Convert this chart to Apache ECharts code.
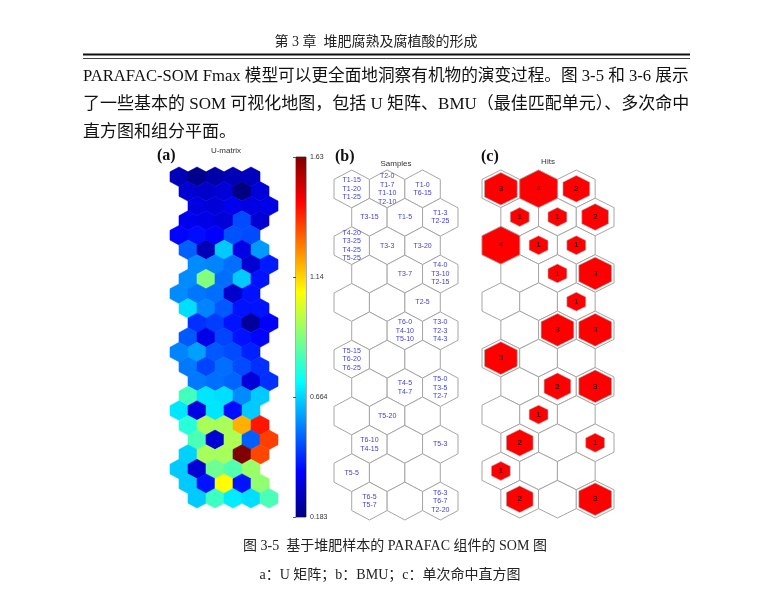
<!DOCTYPE html>
<html><head><meta charset="utf-8">
<script src="https://cdn.jsdelivr.net/npm/echarts@6/dist/echarts.min.js"></script>
<style>html,body{margin:0;padding:0;background:#fff}#c{width:770px;height:589px}</style>
</head><body><div id="c"></div>
<script>
// ---------- data ----------
// U-matrix values, 23 rows x 5 columns (top row first)
const umatRows = [
  [0.26, 0.20, 0.24, 0.26, 0.27],
  [0.30, 0.29, 0.31, 0.183, 0.31],
  [0.32, 0.31, 0.34, 0.32, 0.33],
  [0.34, 0.33, 0.31, 0.47, 0.30],
  [0.37, 0.38, 0.36, 0.48, 0.47],
  [0.50, 0.26, 0.65, 0.33, 0.58],
  [0.56, 0.55, 0.52, 0.30, 0.40],
  [0.56, 0.91, 0.52, 0.65, 0.39],
  [0.56, 0.53, 0.52, 0.29, 0.39],
  [0.68, 0.55, 0.49, 0.39, 0.39],
  [0.43, 0.45, 0.39, 0.22, 0.36],
  [0.49, 0.33, 0.46, 0.39, 0.37],
  [0.55, 0.59, 0.49, 0.47, 0.41],
  [0.535, 0.46, 0.52, 0.47, 0.43],
  [0.535, 0.52, 0.506, 0.31, 0.43],
  [0.82, 0.69, 0.68, 0.56, 0.65],
  [0.69, 0.32, 0.69, 0.38, 0.65],
  [0.78, 0.965, 0.965, 1.20, 1.42],
  [0.83, 0.30, 0.97, 0.50, 1.36],
  [0.66, 0.96, 0.96, 1.63, 1.35],
  [0.65, 0.30, 0.88, 0.84, 0.94],
  [0.65, 0.39, 1.09, 0.39, 0.93],
  [0.65, 0.81, 0.70, 0.68, 0.83]
];
const colorbarMin = 0.183;
const colorbarMax = 1.63;
const colorbarTickLabels = ['0.183', '0.664', '1.14', '1.63'];

// BMU sample labels, 12 rows x 3 columns
const bmuLabels = [
  ['T1-15\nT1-20\nT1-25', 'T2-0\nT1-7\nT1-10\nT2-10', 'T1-0\nT6-15'],
  ['T3-15', 'T1-5', 'T1-3\nT2-25'],
  ['T4-20\nT3-25\nT4-25\nT5-25', 'T3-3', 'T3-20'],
  ['', 'T3-7', 'T4-0\nT3-10\nT2-15'],
  ['', '', 'T2-5'],
  ['', 'T6-0\nT4-10\nT5-10', 'T3-0\nT2-3\nT4-3'],
  ['T5-15\nT6-20\nT6-25', '', ''],
  ['', 'T4-5\nT4-7', 'T5-0\nT3-5\nT2-7'],
  ['', 'T5-20', ''],
  ['T6-10\nT4-15', '', 'T5-3'],
  ['T5-5', '', ''],
  ['T6-5\nT5-7', '', 'T6-3\nT6-7\nT2-20']
];
// hits per map unit, 12 rows x 3 columns
const hitsRows = [
  [3, 4, 2], [1, 1, 2], [4, 1, 1], [0, 1, 3], [0, 0, 1], [0, 3, 3],
  [3, 0, 0], [0, 2, 3], [0, 1, 0], [2, 0, 1], [1, 0, 0], [2, 0, 3]
];

// ---------- lattice helpers ----------
const umatShift = [0, 0.5, 1, 0.5];
const jet = ['#000080', '#0000ff', '#0080ff', '#00ffff', '#80ff80', '#ffff00', '#ff8000', '#ff0000', '#800000'];

const umatData = [];
umatRows.forEach((row, r) => row.forEach((v, c) => umatData.push([c + umatShift[r % 4], r, v])));
const mapData = [], mapLabels = [];
bmuLabels.forEach((row, r) => row.forEach((t, c) => { mapData.push([c + 0.5 * (r % 2), r]); mapLabels.push(t); }));
const hitsData = [];
hitsRows.forEach((row, r) => row.forEach((h, c) => hitsData.push([c + 0.5 * (r % 2), r, h])));
const maxHits = Math.max(...hitsRows.flat());

function hexPts(cx, cy, hw, hh) {
  return [[cx, cy - hh], [cx + hw, cy - hh / 2], [cx + hw, cy + hh / 2], [cx, cy + hh], [cx - hw, cy + hh / 2], [cx - hw, cy - hh / 2]];
}
const SMALL = "'Liberation Sans', Arial, sans-serif";
const SERIF = "'Liberation Serif', 'Noto Sans CJK SC', serif";

const hiddenX = (gi, min, max) => ({ type: 'value', gridIndex: gi, min, max, show: false });
const hiddenY = (gi, min, max) => ({ type: 'value', gridIndex: gi, min, max, inverse: true, show: false });

function txt(text, x, y, font, fill, align) {
  return { type: 'text', x: x, y: y, silent: true,
    style: { text, font, fill: fill || '#222', align: align || 'left', textAlign: align || 'left',
             verticalAlign: 'middle', textVerticalAlign: 'middle' } };
}

const option = {
  backgroundColor: '#fff',
  animation: false,
  grid: [
    { left: 170, top: 167, width: 108, height: 341 },
    { left: 296, top: 157, width: 10, height: 360, show: true, borderColor: '#333', borderWidth: 0.8, backgroundColor: 'transparent' },
    { left: 334, top: 170, width: 124, height: 350 },
    { left: 482, top: 170, width: 132, height: 348 }
  ],
  xAxis: [
    hiddenX(0, -0.5, 5.5),
    hiddenX(1, 0, 1),
    hiddenX(2, -0.5, 3),
    hiddenX(3, -0.5, 3)
  ],
  yAxis: [
    hiddenY(0, -2 / 3, 22 + 2 / 3),
    { type: 'value', gridIndex: 1, min: 0, max: 3, interval: 1, position: 'right',
      axisLine: { show: false }, splitLine: { show: false },
      axisTick: { show: true, inside: true, length: 3, lineStyle: { color: '#333', width: 0.8 } },
      axisLabel: { fontSize: 7, fontFamily: SMALL, color: '#333', margin: 4,
                   formatter: (v) => colorbarTickLabels[Math.round(v)] } },
    hiddenY(2, -2 / 3, 11 + 2 / 3),
    hiddenY(3, -2 / 3, 11 + 2 / 3)
  ],
  visualMap: {
    type: 'continuous', show: false, seriesIndex: 0, dimension: 2,
    min: colorbarMin, max: colorbarMax, inRange: { color: jet }
  },
  series: [
    { type: 'custom', name: 'U-matrix', xAxisIndex: 0, yAxisIndex: 0, data: umatData,
      renderItem: (params, api) => {
        const p = api.coord([api.value(0), api.value(1)]);
        const s = api.size([1, 1]);
        const col = api.visual('color');
        return { type: 'polygon', shape: { points: hexPts(p[0], p[1], s[0] / 2, s[1] * 2 / 3) },
                 style: { fill: col, stroke: col, lineWidth: 0.6 } };
      } },
    { type: 'custom', name: 'colorbar', xAxisIndex: 1, yAxisIndex: 1, data: [[0, 0, 1, 3]],
      renderItem: (params, api) => {
        const a = api.coord([api.value(0), api.value(3)]);
        const b = api.coord([api.value(2), api.value(1)]);
        return { type: 'rect', shape: { x: a[0], y: a[1], width: b[0] - a[0], height: b[1] - a[1] },
                 style: { fill: new echarts.graphic.LinearGradient(0, 1, 0, 0,
                   jet.map((c, i) => ({ offset: i / (jet.length - 1), color: c }))) } };
      } },
    { type: 'custom', name: 'Samples', xAxisIndex: 2, yAxisIndex: 2, data: mapData,
      renderItem: (params, api) => {
        const p = api.coord([api.value(0), api.value(1)]);
        const s = api.size([1, 1]);
        return { type: 'group', children: [
          { type: 'polygon', shape: { points: hexPts(p[0], p[1], s[0] / 2, s[1] * 2 / 3) },
            style: { fill: '#fff', stroke: '#a6a6a6', lineWidth: 1 } },
          { type: 'text', style: { text: mapLabels[params.dataIndex], x: p[0], y: p[1],
            align: 'center', verticalAlign: 'middle', fontSize: 7, fontFamily: SMALL,
            lineHeight: 8.5, fill: '#4040d8' } }
        ] };
      } },
    { type: 'custom', name: 'HitsGrid', xAxisIndex: 3, yAxisIndex: 3, data: hitsData,
      renderItem: (params, api) => {
        const p = api.coord([api.value(0), api.value(1)]);
        const s = api.size([1, 1]);
        return { type: 'polygon', shape: { points: hexPts(p[0], p[1], s[0] / 2, s[1] * 2 / 3) },
                 style: { fill: '#fff', stroke: '#a6a6a6', lineWidth: 1 } };
      } },
    { type: 'custom', name: 'Hits', xAxisIndex: 3, yAxisIndex: 3, data: hitsData,
      renderItem: (params, api) => {
        const h = api.value(2);
        if (!h) return { type: 'group', children: [] };
        const p = api.coord([api.value(0), api.value(1)]);
        const s = api.size([1, 1]);
        const k = Math.sqrt(h / maxHits);
        return { type: 'group', children: [
          { type: 'polygon', shape: { points: hexPts(p[0], p[1], k * s[0] / 2, k * s[1] * 2 / 3) },
            style: { fill: '#ff0000', stroke: '#b0b0b0', lineWidth: 0.6 } },
          { type: 'text', style: { text: String(h), x: p[0], y: p[1], align: 'center', verticalAlign: 'middle',
            fontSize: 8, fontFamily: SMALL, fill: '#000' } }
        ] };
      } }
  ],
  graphic: [
    txt('第 3 章  堆肥腐熟及腐植酸的形成', 376, 42, "14px " + SERIF, '#222', 'center'),
    { type: 'line', shape: { x1: 83, y1: 54.5, x2: 690, y2: 54.5 }, style: { stroke: '#111', lineWidth: 2 } },
    { type: 'line', shape: { x1: 83, y1: 58.5, x2: 690, y2: 58.5 }, style: { stroke: '#111', lineWidth: 0.8 } },
    txt('PARAFAC-SOM Fmax 模型可以更全面地洞察有机物的演变过程。图 3-5 和 3-6 展示', 83, 77, "16.65px " + SERIF, '#111'),
    txt('了一些基本的 SOM 可视化地图，包括 U 矩阵、BMU（最佳匹配单元）、多次命中', 83, 105, "17px " + SERIF, '#111'),
    txt('直方图和组分平面。', 83, 133, "17px " + SERIF, '#111'),
    txt('(a)', 157, 156, "bold 16px " + SERIF, '#111'),
    txt('(b)', 335, 157, "bold 16px " + SERIF, '#111'),
    txt('(c)', 481, 157, "bold 16px " + SERIF, '#111'),
    txt('U-matrix', 226, 151, "8px " + SMALL, '#333', 'center'),
    txt('Samples', 396, 164, "8px " + SMALL, '#333', 'center'),
    txt('Hits', 548, 162, "8px " + SMALL, '#333', 'center'),
    txt('图 3-5  基于堆肥样本的 PARAFAC 组件的 SOM 图', 395, 546, "14px " + SERIF, '#222', 'center'),
    txt('a：U 矩阵；b：BMU；c：单次命中直方图', 390, 575, "14px " + SERIF, '#222', 'center')
  ]
};
const chart = echarts.init(document.getElementById('c'), null, { renderer: 'canvas' });
chart.setOption(option);
</script>
</body></html>
